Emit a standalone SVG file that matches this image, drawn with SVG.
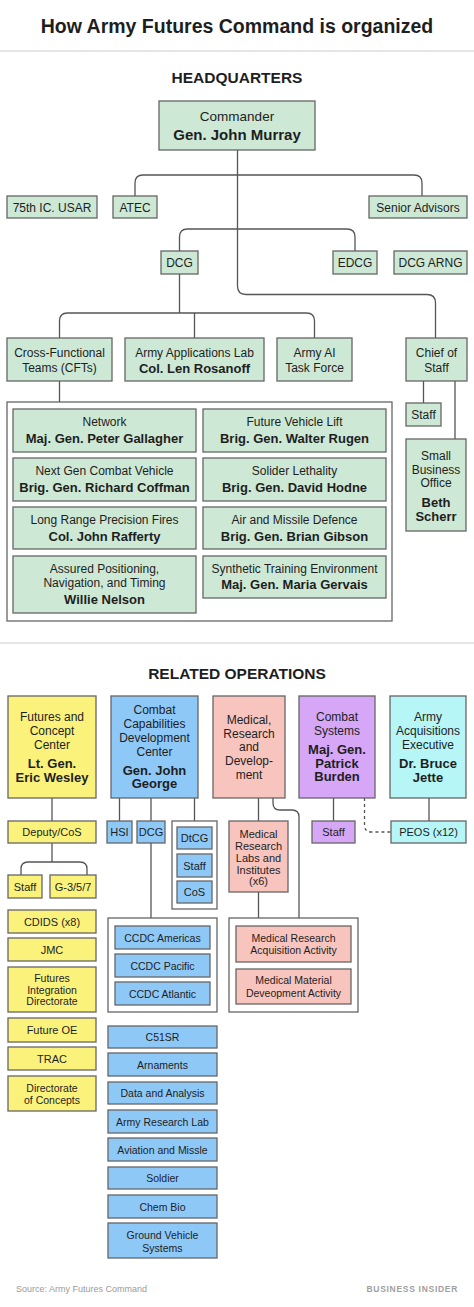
<svg xmlns="http://www.w3.org/2000/svg" width="474" height="1307" viewBox="0 0 474 1307">
<style>
text{font-family:'Liberation Sans',Arial,sans-serif;fill:#1e1e1e;text-anchor:middle}
.bx{stroke:#666;stroke-width:1.3}
.g{fill:#cde8d5}.y{fill:#fbf27c}.b{fill:#8ec8f6}.p{fill:#f8c5be}.u{fill:#d6a7f6}.c{fill:#b6f6f6}
.w{fill:#fff}
.ln{fill:none;stroke:#555;stroke-width:1.3}
.dash{stroke-dasharray:3 3}
.sep{stroke:#dcdcdc;stroke-width:1.6}
.r{font-size:12px}.rb{font-size:13px;font-weight:bold}
.s{font-size:11px}.xs{font-size:10.5px}
.h{font-size:15.5px;font-weight:bold}
</style>
<rect x="0" y="0" width="474" height="1307" fill="#fff"/>
<text x="237" y="33" style="font-size:19.5px;font-weight:bold">How Army Futures Command is organized</text>
<line class="sep" x1="0" y1="51" x2="474" y2="51"/>
<text class="h" x="237" y="83">HEADQUARTERS</text>
<line class="sep" x1="0" y1="643" x2="474" y2="643"/>
<text class="h" x="237" y="679">RELATED OPERATIONS</text>

<g id="connectors">
<path class="ln" d="M237.5,150 V286 Q237.5,294.5 246,294.5 H427 Q435.5,294.5 435.5,303 V338"/>
<path class="ln" d="M135,196 V183 Q135,175 143,175 H414 Q422,175 422,183 V196"/>
<path class="ln" d="M179.5,251 V237 Q179.5,229 187.5,229 H347 Q355,229 355,237 V251"/>
<path class="ln" d="M179.5,274 V313"/>
<path class="ln" d="M59.5,338 V321 Q59.5,313 67.5,313 H306.5 Q314.5,313 314.5,321 V338"/>
<path class="ln" d="M194.5,313 V338"/>
<path class="ln" d="M59.5,381 V402"/>
<path class="ln" d="M423.5,381 V403"/>
<path class="ln" d="M455,381 V439"/>
<path class="ln" d="M52,798 V821"/>
<path class="ln" d="M52,843 V862"/>
<path class="ln" d="M21,875 V869 Q21,862 28,862 H80 Q87,862 87,869 V875"/>
<path class="ln" d="M119.5,798 V821"/>
<path class="ln" d="M151,798 V918"/>
<path class="ln" d="M194.5,798 V821"/>
<path class="ln" d="M258.5,798 V821"/>
<path class="ln" d="M258.5,892 V918"/>
<path class="ln" d="M273,798 V803 Q273,810 280,810 H292 Q299,810 299,817 V918"/>
<path class="ln" d="M333.5,798 V821"/>
<path class="ln dash" d="M364.5,798 V825 Q364.5,832 371.5,832 H391"/>
<path class="ln" d="M429,798 V821"/>
</g>

<g id="commander"><rect class="bx g" x="159" y="101" width="156" height="49"/><text x="237" y="121" style="font-size:13.5px">Commander</text><text x="237" y="140" style="font-size:15px;font-weight:bold">Gen. John Murray</text></g>
<g id="usar"><rect class="bx g" x="7" y="196" width="90" height="22"/><text class="r" x="52" y="211.5">75th IC. USAR</text></g>
<g id="atec"><rect class="bx g" x="113" y="196" width="44" height="22"/><text class="r" x="135" y="211.5">ATEC</text></g>
<g id="senior"><rect class="bx g" x="369" y="196" width="98" height="22"/><text class="r" x="418" y="211.5">Senior Advisors</text></g>
<g id="dcg"><rect class="bx g" x="161" y="251" width="37" height="23"/><text class="r" x="179.5" y="266.5">DCG</text></g>
<g id="edcg"><rect class="bx g" x="333" y="251" width="44" height="23"/><text class="r" x="355" y="266.5">EDCG</text></g>
<g id="dcgarng"><rect class="bx g" x="394" y="251" width="73" height="23"/><text class="r" x="430.5" y="266.5">DCG ARNG</text></g>
<g id="cft"><rect class="bx g" x="7" y="338" width="105" height="43"/><text class="r" x="59.5" y="357">Cross-Functional</text><text class="r" x="59.5" y="372">Teams (CFTs)</text></g>
<g id="aal"><rect class="bx g" x="125" y="338" width="139" height="43"/><text class="r" x="194.5" y="356.5">Army Applications Lab</text><text class="rb" x="194.5" y="372.5">Col. Len Rosanoff</text></g>
<g id="aitf"><rect class="bx g" x="277" y="338" width="75" height="43"/><text class="r" x="314.5" y="357">Army AI</text><text class="r" x="314.5" y="372">Task Force</text></g>
<g id="chiefofstaff"><rect class="bx g" x="406" y="338" width="61" height="43"/><text class="r" x="436.5" y="357">Chief of</text><text class="r" x="436.5" y="372">Staff</text></g>
<g id="hqstaff"><rect class="bx g" x="406" y="403" width="35" height="23"/><text class="r" x="423.5" y="419">Staff</text></g>
<g id="sbo"><rect class="bx g" x="406" y="439" width="60" height="92"/><text class="r" x="436" y="460">Small</text><text class="r" x="436" y="473.5">Business</text><text class="r" x="436" y="487">Office</text><text class="rb" x="436" y="507">Beth</text><text class="rb" x="436" y="520.5">Scherr</text></g>

<g id="cft-group">
<rect class="bx w" x="7" y="402" width="385" height="219"/>
<g id="network"><rect class="bx g" x="13" y="409" width="183" height="43"/><text class="r" x="104.5" y="426">Network</text><text class="rb" x="104.5" y="442.5">Maj. Gen. Peter Gallagher</text></g>
<g id="fvl"><rect class="bx g" x="203" y="409" width="183" height="43"/><text class="r" x="294.5" y="426">Future Vehicle Lift</text><text class="rb" x="294.5" y="442.5">Brig. Gen. Walter Rugen</text></g>
<g id="ngcv"><rect class="bx g" x="13" y="458" width="183" height="43"/><text class="r" x="104.5" y="475">Next Gen Combat Vehicle</text><text class="rb" x="104.5" y="491.5">Brig. Gen. Richard Coffman</text></g>
<g id="sl"><rect class="bx g" x="203" y="458" width="183" height="43"/><text class="r" x="294.5" y="475">Solider Lethality</text><text class="rb" x="294.5" y="491.5">Brig. Gen. David Hodne</text></g>
<g id="lrpf"><rect class="bx g" x="13" y="507" width="183" height="42"/><text class="r" x="104.5" y="524">Long Range Precision Fires</text><text class="rb" x="104.5" y="540.5">Col. John Rafferty</text></g>
<g id="amd"><rect class="bx g" x="203" y="507" width="183" height="42"/><text class="r" x="294.5" y="524">Air and Missile Defence</text><text class="rb" x="294.5" y="540.5">Brig. Gen. Brian Gibson</text></g>
<g id="apnt"><rect class="bx g" x="13" y="556" width="183" height="57"/><text class="r" x="104.5" y="573">Assured Positioning,</text><text class="r" x="104.5" y="587">Navigation, and Timing</text><text class="rb" x="104.5" y="604">Willie Nelson</text></g>
<g id="ste"><rect class="bx g" x="203" y="556" width="183" height="42"/><text class="r" x="294.5" y="572.5">Synthetic Training Environment</text><text class="rb" x="294.5" y="589">Maj. Gen. Maria Gervais</text></g>
</g>

<g id="fcc"><rect class="bx y" x="8" y="696" width="88" height="102"/><text class="r" x="52" y="721">Futures and</text><text class="r" x="52" y="735">Concept</text><text class="r" x="52" y="748.5">Center</text><text class="rb" x="52" y="768">Lt. Gen.</text><text class="rb" x="52" y="781.5">Eric Wesley</text></g>
<g id="ccdc"><rect class="bx b" x="111" y="696" width="87" height="102"/><text class="r" x="154.5" y="714">Combat</text><text class="r" x="154.5" y="728">Capabilities</text><text class="r" x="154.5" y="742">Development</text><text class="r" x="154.5" y="755.5">Center</text><text class="rb" x="154.5" y="774.5">Gen. John</text><text class="rb" x="154.5" y="788">George</text></g>
<g id="mrd"><rect class="bx p" x="213" y="696" width="72" height="102"/><text class="r" x="249" y="724">Medical,</text><text class="r" x="249" y="737.5">Research</text><text class="r" x="249" y="751.2">and</text><text class="r" x="249" y="765">Develop-</text><text class="r" x="249" y="778.8">ment</text></g>
<g id="cs"><rect class="bx u" x="299" y="696" width="76" height="102"/><text class="r" x="337" y="721">Combat</text><text class="r" x="337" y="735">Systems</text><text class="rb" x="337" y="754">Maj. Gen.</text><text class="rb" x="337" y="767.5">Patrick</text><text class="rb" x="337" y="781">Burden</text></g>
<g id="aae"><rect class="bx c" x="390" y="696" width="76" height="102"/><text class="r" x="428" y="721">Army</text><text class="r" x="428" y="735">Acquisitions</text><text class="r" x="428" y="748.5">Executive</text><text class="rb" x="428" y="768">Dr. Bruce</text><text class="rb" x="428" y="781.5">Jette</text></g>

<g id="deputycos"><rect class="bx y" x="8" y="821" width="88" height="22"/><text class="s" x="52" y="836">Deputy/CoS</text></g>
<g id="fccstaff"><rect class="bx y" x="8" y="875" width="34" height="23"/><text class="s" x="25" y="890.5">Staff</text></g>
<g id="g357"><rect class="bx y" x="50" y="875" width="46" height="23"/><text class="s" x="73" y="890.5">G-3/5/7</text></g>
<g id="cdids"><rect class="bx y" x="8" y="910" width="88" height="23"/><text class="s" x="52" y="925.5">CDIDS (x8)</text></g>
<g id="jmc"><rect class="bx y" x="8" y="938" width="88" height="23"/><text class="s" x="52" y="953.5">JMC</text></g>
<g id="fid"><rect class="bx y" x="8" y="967" width="88" height="45"/><text class="xs" x="52" y="981.5">Futures</text><text class="xs" x="52" y="993.5">Integration</text><text class="xs" x="52" y="1005">Directorate</text></g>
<g id="futureoe"><rect class="bx y" x="8" y="1018" width="88" height="24"/><text class="s" x="52" y="1034">Future OE</text></g>
<g id="trac"><rect class="bx y" x="8" y="1047" width="88" height="23"/><text class="s" x="52" y="1062.5">TRAC</text></g>
<g id="doc"><rect class="bx y" x="8" y="1076" width="88" height="35"/><text class="xs" x="52" y="1091.5">Directorate</text><text class="xs" x="52" y="1104">of Concepts</text></g>

<g id="hsi"><rect class="bx b" x="107" y="821" width="25" height="22"/><text class="s" x="119.5" y="836">HSI</text></g>
<g id="ccdcdcg"><rect class="bx b" x="137" y="821" width="28" height="22"/><text class="s" x="151" y="836">DCG</text></g>
<g id="dtcg-group">
<rect class="bx w" x="172" y="821" width="45" height="88"/>
<g id="dtcg"><rect class="bx b" x="177" y="827" width="35" height="22"/><text class="s" x="194.5" y="842">DtCG</text></g>
<g id="ccdcstaff"><rect class="bx b" x="177" y="854" width="35" height="23"/><text class="s" x="194.5" y="869.5">Staff</text></g>
<g id="ccdccos"><rect class="bx b" x="177" y="881" width="35" height="22"/><text class="s" x="194.5" y="896">CoS</text></g>
</g>
<g id="ccdc-group">
<rect class="bx w" x="108" y="918" width="109" height="94"/>
<g id="americas"><rect class="bx b" x="115" y="926" width="95" height="23"/><text class="xs" x="162.5" y="941.5">CCDC Americas</text></g>
<g id="pacific"><rect class="bx b" x="115" y="954" width="95" height="23"/><text class="xs" x="162.5" y="969.5">CCDC Pacific</text></g>
<g id="atlantic"><rect class="bx b" x="115" y="982" width="95" height="23"/><text class="xs" x="162.5" y="997.5">CCDC Atlantic</text></g>
</g>
<g id="c51sr"><rect class="bx b" x="108" y="1026" width="109" height="22"/><text class="xs" x="162.5" y="1041">C51SR</text></g>
<g id="arnaments"><rect class="bx b" x="108" y="1053" width="109" height="23"/><text class="xs" x="162.5" y="1068.5">Arnaments</text></g>
<g id="data"><rect class="bx b" x="108" y="1082" width="109" height="22"/><text class="xs" x="162.5" y="1097">Data and Analysis</text></g>
<g id="arl"><rect class="bx b" x="108" y="1110" width="109" height="23"/><text class="xs" x="162.5" y="1125.5">Army Research Lab</text></g>
<g id="aviation"><rect class="bx b" x="108" y="1138" width="109" height="23"/><text class="xs" x="162.5" y="1153.5">Aviation and Missle</text></g>
<g id="soldier"><rect class="bx b" x="108" y="1167" width="109" height="22"/><text class="xs" x="162.5" y="1182">Soldier</text></g>
<g id="chembio"><rect class="bx b" x="108" y="1195" width="109" height="23"/><text class="xs" x="162.5" y="1210.5">Chem Bio</text></g>
<g id="gvs"><rect class="bx b" x="108" y="1223" width="109" height="35"/><text class="xs" x="162.5" y="1239">Ground Vehicle</text><text class="xs" x="162.5" y="1252">Systems</text></g>

<g id="mrl"><rect class="bx p" x="229" y="821" width="59" height="71"/><text class="s" x="258.5" y="837.5">Medical</text><text class="s" x="258.5" y="849.5">Research</text><text class="s" x="258.5" y="861.5">Labs and</text><text class="s" x="258.5" y="873.5">Institutes</text><text class="s" x="258.5" y="885">(x6)</text></g>
<g id="med-group">
<rect class="bx w" x="229" y="918" width="129" height="94"/>
<g id="mraa"><rect class="bx p" x="236" y="926" width="115" height="36"/><text class="xs" x="293.5" y="942">Medical Research</text><text class="xs" x="293.5" y="954">Acquisition Activity</text></g>
<g id="mmda"><rect class="bx p" x="236" y="969" width="115" height="35"/><text class="xs" x="293.5" y="984">Medical Material</text><text class="xs" x="293.5" y="996.5">Deveopment Activity</text></g>
</g>
<g id="csstaff"><rect class="bx u" x="312" y="821" width="43" height="22"/><text class="s" x="333.5" y="836">Staff</text></g>
<g id="peos"><rect class="bx c" x="391" y="821" width="75" height="22"/><text class="s" x="428.5" y="836">PEOS (x12)</text></g>

<text x="16" y="1291.5" style="font-size:9px;fill:#9a9a9a;text-anchor:start">Source: Army Futures Command</text>
<text x="458" y="1291.5" style="font-size:8.5px;fill:#a0a0a0;text-anchor:end;letter-spacing:0.7px;font-weight:bold">BUSINESS INSIDER</text>
</svg>
